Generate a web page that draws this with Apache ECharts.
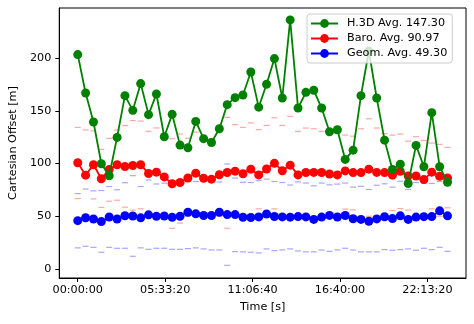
<!DOCTYPE html>
<html>
<head>
<meta charset="utf-8">
<script src="https://cdn.jsdelivr.net/npm/echarts@6/dist/echarts.min.js"></script>
<style>
  html, body { margin: 0; padding: 0; background: #fff; }
  #chart { width: 474px; height: 324px; }
</style>
</head>
<body>
<div id="chart"></div>
<script>
// Sample times in seconds since 00:00:00 (30-minute bins)
const times = [0, 1800, 3600, 5400, 7200, 9000, 10800, 12600, 14400, 16200,
  18000, 19800, 21600, 23400, 25200, 27000, 28800, 30600, 32400, 34200,
  36000, 37800, 39600, 41400, 43200, 45000, 46800, 48600, 50400, 52200,
  54000, 55800, 57600, 59400, 61200, 63000, 64800, 66600, 68400, 70200,
  72000, 73800, 75600, 77400, 79200, 81000, 82800, 84600];

// Mean cartesian offset per bin [m]
const h3d = [203.4, 166.9, 139.4, 99.8, 88.4, 124.8, 164.4, 150.5, 175.9, 146.4,
  166.0, 125.4, 146.7, 117.5, 115.0, 140.0, 123.6, 120.0, 133.0, 155.9,
  162.5, 165.0, 186.9, 153.5, 175.2, 199.6, 162.2, 236.3, 152.7, 167.6,
  169.5, 152.7, 130.2, 132.1, 103.9, 112.7, 164.4, 206.8, 162.2, 122.2,
  94.4, 99.4, 81.1, 117.2, 97.0, 148.3, 97.0, 82.3];
const baro = [100.8, 89.0, 98.9, 85.6, 94.4, 98.9, 97.2, 98.2, 98.9, 90.6,
  91.8, 87.3, 80.8, 82.0, 86.3, 90.9, 86.1, 85.2, 89.4, 91.5,
  92.8, 90.3, 94.7, 89.2, 94.8, 100.2, 93.2, 98.5, 89.2, 91.5,
  91.6, 91.5, 90.1, 89.2, 93.0, 91.4, 91.4, 94.7, 91.6, 91.4,
  89.0, 92.6, 88.2, 88.2, 84.8, 91.8, 87.9, 86.3];
const geom = [45.8, 48.6, 47.4, 44.9, 49.3, 47.4, 50.5, 50.2, 48.5, 51.3,
  49.9, 50.2, 49.0, 50.0, 53.8, 52.3, 50.7, 50.7, 53.8, 51.6,
  51.6, 49.0, 48.8, 49.4, 52.1, 49.8, 49.4, 49.1, 49.7, 49.4,
  47.0, 49.2, 50.8, 49.3, 50.7, 47.6, 47.0, 45.2, 47.5, 49.5,
  47.8, 50.4, 47.0, 49.2, 49.6, 49.7, 55.1, 50.4];

// Spread bounds per bin (upper / lower), drawn as short dashes
const baroHi = [134.3, 131.9, 131.0, 113.4, 123.9, 131.8, 136.0, 140.8, 140.3, 130.6,
  133.8, 124.5, 123.6, 128.0, 124.0, 129.8, 123.9, 123.6, 130.5, 143.8,
  136.9, 134.3, 138.6, 132.2, 136.2, 143.4, 136.2, 144.8, 130.5, 133.7,
  133.0, 130.5, 129.8, 128.6, 127.0, 126.0, 133.0, 142.5, 133.7, 128.3,
  127.0, 128.0, 121.3, 125.5, 122.0, 119.4, 118.2, 115.3];
const baroLo = [66.8, 50.0, 66.4, 58.4, 64.3, 65.2, 58.6, 55.8, 57.0, 50.0,
  50.0, 50.0, 38.5, 43.5, 50.0, 50.0, 50.0, 50.0, 50.0, 38.6,
  50.0, 50.0, 50.0, 57.0, 50.0, 57.0, 50.0, 50.0, 50.0, 50.0,
  50.0, 50.0, 50.0, 50.0, 56.8, 56.0, 50.0, 50.0, 50.0, 50.0,
  55.4, 57.3, 55.9, 50.0, 50.0, 57.0, 50.0, 58.0];
const geomHi = [71.5, 75.8, 74.1, 74.4, 78.2, 75.1, 81.8, 88.5, 78.2, 84.4,
  80.6, 81.4, 80.0, 82.0, 83.9, 83.0, 83.5, 82.0, 82.5, 99.6,
  86.2, 82.2, 82.0, 83.9, 85.2, 83.0, 82.0, 79.6, 82.6, 81.5,
  78.9, 81.5, 79.8, 80.5, 81.5, 77.6, 78.4, 75.4, 79.4, 80.8,
  77.6, 83.2, 75.4, 82.0, 81.4, 81.1, 83.0, 81.1];
const geomLo = [20.0, 21.5, 20.5, 15.8, 20.5, 19.6, 19.6, 12.0, 20.0, 18.6,
  19.6, 19.6, 18.6, 18.6, 19.3, 20.0, 19.0, 18.0, 18.0, 3.4,
  16.4, 16.2, 15.8, 15.2, 19.0, 17.4, 18.0, 19.0, 17.1, 16.2,
  16.2, 18.0, 16.7, 18.0, 19.6, 18.0, 16.2, 16.2, 16.2, 18.3,
  17.7, 18.3, 19.0, 17.7, 19.6, 18.3, 20.5, 16.7];

const xTicks = [0, 20000, 40000, 60000, 80000];
const yTicks = [0, 50, 100, 150, 200];
const legendNames = ['H.3D Avg. 147.30', 'Baro. Avg. 90.97', 'Geom. Avg. 49.30'];

const FONT = 'DejaVu Sans';
const FS = 11.2;

function hms(s) {
  const h = Math.floor(s / 3600), m = Math.floor((s % 3600) / 60), sec = Math.round(s % 60);
  const p = v => String(v).padStart(2, '0');
  return p(h) + ':' + p(m) + ':' + p(sec);
}

const pairs = arr => arr.map((v, i) => [times[i], v]);

function lineSeries(name, values, color, z) {
  return {
    name, type: 'line', data: pairs(values), z,
    symbol: 'circle', symbolSize: 9, showSymbol: true,
    lineStyle: { color, width: 1.8 },
    itemStyle: { color },
    emphasis: { disabled: true },
    animation: false
  };
}

function dashSeries(name, values, color) {
  return {
    name, type: 'scatter', data: pairs(values), z: 1, silent: true,
    symbol: 'rect', symbolSize: [6, 1.2],
    itemStyle: { color, opacity: 0.35 },
    animation: false
  };
}

// Axis extent with 5% padding around the data
const xSpan = times[times.length - 1] - times[0];
const xMin = times[0] - 0.05 * xSpan, xMax = times[times.length - 1] + 0.05 * xSpan;
const yMin = -8.6, yMax = 247.6;

const chart = echarts.init(document.getElementById('chart'), null, { renderer: 'canvas' });
chart.setOption({
  animation: false,
  backgroundColor: '#fff',
  grid: { left: 57, right: 8, top: 8, bottom: 46, show: true, borderColor: '#000', borderWidth: 1, containLabel: false },
  legend: {
    data: legendNames,
    orient: 'vertical',
    left: 307, top: 14, z: 10,
    itemWidth: 27, itemHeight: 11, itemGap: 4,
    padding: [4, 5, 4, 3],
    backgroundColor: 'rgba(255,255,255,0.8)',
    borderColor: '#cccccc', borderWidth: 1, borderRadius: 3,
    textStyle: { fontFamily: FONT, fontSize: FS, color: '#000', padding: [0, 0, 0, 4] },
    selectedMode: false
  },
  xAxis: {
    type: 'value', min: xMin, max: xMax,
    name: 'Time [s]', nameLocation: 'middle', nameGap: 24,
    nameTextStyle: { fontFamily: FONT, fontSize: FS, color: '#000' },
    axisLine: { show: true, onZero: false, lineStyle: { color: '#000', width: 1 } },
    axisTick: { show: true, customValues: xTicks, length: 4, lineStyle: { color: '#000' } },
    axisLabel: { customValues: xTicks, formatter: v => hms(v), fontFamily: FONT, fontSize: FS, color: '#000', margin: 7 },
    splitLine: { show: false }
  },
  yAxis: {
    type: 'value', min: yMin, max: yMax,
    name: 'Cartesian Offset [m]', nameLocation: 'middle', nameGap: 33, nameRotate: 90,
    nameTextStyle: { fontFamily: FONT, fontSize: FS, color: '#000' },
    axisLine: { show: true, onZero: false, lineStyle: { color: '#000', width: 1 } },
    axisTick: { show: true, customValues: yTicks, length: 4, lineStyle: { color: '#000' } },
    axisLabel: { customValues: yTicks, fontFamily: FONT, fontSize: FS, color: '#000', margin: 8 },
    splitLine: { show: false }
  },
  series: [
    dashSeries('baro-hi', baroHi, '#ff0000'),
    dashSeries('baro-lo', baroLo, '#ff0000'),
    dashSeries('geom-hi', geomHi, '#0000ff'),
    dashSeries('geom-lo', geomLo, '#0000ff'),
    lineSeries(legendNames[1], baro, '#ff0000', 2),
    lineSeries(legendNames[2], geom, '#0000ff', 2),
    lineSeries(legendNames[0], h3d, '#008000', 3)
  ]
});
</script>
</body>
</html>
